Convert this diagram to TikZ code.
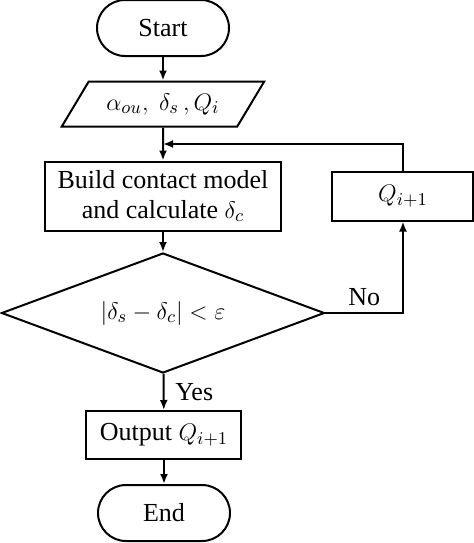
\documentclass[tikz,border=0pt]{standalone}
\usepackage{fontspec}
\setmainfont{Liberation Serif}
\usepackage{tikz}
\usetikzlibrary{arrows.meta}
\usetikzlibrary{positioning}
\usetikzlibrary{shapes}
\usetikzlibrary{calc}
\tikzstyle{term}=[draw,rectangle,rounded corners=14pt,minimum width=66pt,minimum height=28pt,inner sep=1pt]
\tikzstyle{io}=[draw,trapezium,trapezium left angle=50,trapezium right angle=130,trapezium stretches=true,minimum width=101.5pt,minimum height=22.5pt,inner sep=1pt]
\tikzstyle{proc}=[draw,rectangle,inner sep=1pt,align=center]
\tikzstyle{test}=[draw,diamond,aspect=2.69,minimum width=161.5pt,minimum height=60pt,inner sep=0pt]
\tikzstyle{flow}=[-{Latex[length=5pt,width=4pt]}]

\begin{document}
\begin{tikzpicture}[x=0.5pt,y=-0.5pt,line width=1pt,font=\fontsize{13}{15}\selectfont]
\useasboundingbox (0,0) rectangle (474,543);
    \node [term] (start) at (163,28) {Start};
    \node [io] (input) at (163,104) {$\alpha_{ou},\ \delta_s\,, Q_i$};
    \node [proc,minimum width=118pt,minimum height=34.5pt] (build) at (163,196) {Build contact model\\and calculate $\delta_c$};
    \node [proc,minimum width=70.5pt,minimum height=24.5pt] (q) at (403,196) {$Q_{i+1}$};
    \node [test] (check) at (163,313) {$|\delta_s-\delta_c|<\varepsilon$};
    \node [proc,minimum width=77.5pt,minimum height=24pt] (out) at (164,435) {Output $Q_{i+1}$};
    \node [term] (end) at (164,513) {End};

    \draw [flow] (start) -- (input);
    \draw [flow] (input) -- (build);
    \draw [flow] (build) -- (check);
    \draw [flow] (check) -- node [right=2pt] {Yes} (out);
    \draw [flow] (out) -- (end);
    \draw [flow] (check.east) -| node [pos=0.25,above] {No} (q.south);
    \draw [flow] (q.north) |- ($(input.south)!0.5!(build.north)$);
\end{tikzpicture}
\end{document}
